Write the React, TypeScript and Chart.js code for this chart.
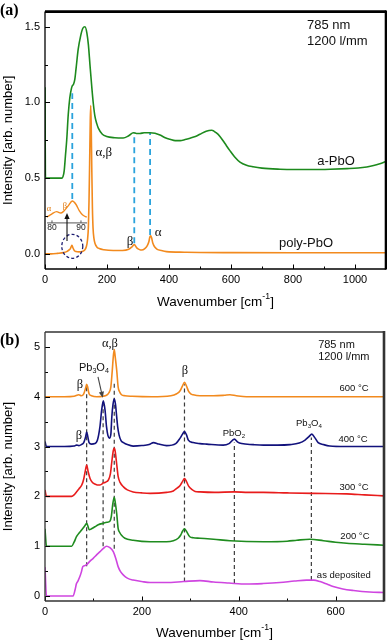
import React, { useEffect, useRef } from "react";
import { Chart, registerables } from "chart.js";

Chart.register(...registerables);

const SANS = "'Liberation Sans', Arial, sans-serif";
const SERIF = "'Liberation Serif', 'Times New Roman', serif";
Chart.defaults.font.family = SANS;
Chart.defaults.color = "#000";

// ---------- (a) amorphous and polycrystalline PbO ----------
const A_APBO_WN = [0, 1.5, 20, 40, 55, 58, 62, 66, 70, 75, 80, 85, 88, 92, 96, 100, 107, 115, 122, 129, 135, 140, 145, 151, 156, 161, 167, 172, 185, 199, 225, 252, 270, 285, 295, 306, 320, 339, 355, 371, 390, 403, 420, 436, 452, 468, 485, 500, 520, 538, 552, 565, 580, 597, 612, 629, 650, 671, 700, 758, 800, 865, 920, 974, 1010, 1038, 1060, 1080, 1100];
const A_APBO_I = [1.1, 0.5, 0.5, 0.5, 0.5, 0.51, 0.55, 0.65, 0.75, 0.92, 1.03, 1.09, 1.11, 1.12, 1.15, 1.22, 1.35, 1.44, 1.49, 1.5, 1.46, 1.38, 1.25, 1.1, 0.99, 0.91, 0.86, 0.83, 0.79, 0.775, 0.767, 0.765, 0.78, 0.8, 0.795, 0.795, 0.8, 0.8, 0.797, 0.785, 0.765, 0.757, 0.748, 0.748, 0.755, 0.764, 0.775, 0.79, 0.81, 0.816, 0.8, 0.774, 0.73, 0.68, 0.64, 0.606, 0.585, 0.575, 0.566, 0.559, 0.557, 0.557, 0.559, 0.563, 0.567, 0.574, 0.583, 0.595, 0.61];

const A_POLY_WN = [0, 20, 40, 60, 70, 77, 82, 85, 87, 90, 95, 100, 110, 120, 128, 133, 137, 140, 142, 144, 146, 147.5, 149, 151, 153, 155, 158, 162, 167, 175, 190, 220, 250, 270, 280, 288, 296, 305, 312, 322, 330, 335, 338, 341, 344, 348, 354, 362, 375, 392, 450, 500, 600, 800, 1100];
const A_POLY_I = [0, 0, 0.003, 0.008, 0.015, 0.025, 0.035, 0.05, 0.057, 0.04, 0.02, 0.015, 0.013, 0.015, 0.025, 0.045, 0.09, 0.18, 0.35, 0.6, 0.88, 0.98, 0.86, 0.55, 0.3, 0.17, 0.1, 0.065, 0.046, 0.035, 0.027, 0.022, 0.022, 0.03, 0.045, 0.061, 0.04, 0.028, 0.025, 0.035, 0.055, 0.08, 0.11, 0.12, 0.105, 0.07, 0.045, 0.03, 0.022, 0.015, 0.011, 0.009, 0.008, 0.007, 0.007];

// magnified poly-PbO band around 80-90 cm-1
const A_ZOOM_WN = [78.2, 79.9, 81.6, 83.0, 83.9, 85.6, 87.0, 88.3, 89.4, 90.6, 92.0];
const A_ZOOM_I = [0.01, 0.019, 0.026, 0.022, 0.026, 0.043, 0.057, 0.047, 0.029, 0.016, 0.01];
const A_ZOOM_TICKS = [80, 90];

// ---------- (b) annealing series ----------
const B_600_WN = [0, 40, 60, 70, 75, 80, 84, 86, 88, 91, 96, 107, 120, 127, 132, 136, 139, 141, 143, 145, 148, 151, 154, 158, 165, 180, 220, 260, 272, 279, 284, 288, 292, 296, 301, 306, 320, 348, 370, 382, 395, 416, 500, 600, 700];
const B_600_I = [4.0, 4.0, 4.01, 4.04, 4.02, 4.06, 4.18, 4.25, 4.2, 4.06, 4.02, 4.0, 4.01, 4.03, 4.08, 4.2, 4.54, 4.8, 4.95, 4.8, 4.54, 4.2, 4.1, 4.04, 4.02, 4.01, 4.0, 4.02, 4.06, 4.12, 4.22, 4.29, 4.22, 4.12, 4.06, 4.04, 4.02, 4.02, 4.03, 4.04, 4.02, 4.0, 4.0, 4.0, 4.0];

const B_400_WN = [0, 3, 40, 60, 65, 70, 75, 80, 84, 86, 88, 91, 96, 103, 108, 113.5, 117, 120.5, 124, 127, 130, 133, 136, 138, 140.5, 143, 145.5, 148, 150, 153, 157, 162, 170, 182, 200, 215, 224, 235, 251, 270, 279, 284, 288, 292, 296, 306, 320, 334, 368, 380, 391, 398, 406, 430, 451, 480, 506, 525, 537, 545, 551, 557, 564, 575, 588, 620, 660, 700];
const B_400_I = [3.1, 3.0, 3.0, 3.01, 3.03, 3.02, 3.04, 3.08, 3.2, 3.29, 3.22, 3.08, 3.05, 3.06, 3.12, 3.4, 3.73, 3.92, 3.73, 3.4, 3.22, 3.17, 3.25, 3.6, 3.85, 3.96, 3.85, 3.6, 3.4, 3.23, 3.12, 3.08, 3.04, 3.01, 3.02, 3.04, 3.08, 3.05, 3.02, 3.06, 3.17, 3.25, 3.3, 3.24, 3.13, 3.08, 3.06, 3.05, 3.03, 3.06, 3.15, 3.09, 3.06, 3.04, 3.03, 3.03, 3.04, 3.07, 3.13, 3.2, 3.25, 3.18, 3.08, 3.04, 3.01, 3.0, 3.0, 3.0];

const B_300_WN = [0, 3, 40, 55, 60, 65, 70, 76, 80, 83, 86, 89, 93, 98, 103, 108, 113.6, 118, 120, 124, 128, 131, 135, 138, 141, 143, 145, 148, 151, 155, 162, 170, 182, 200, 217, 251, 265, 272, 279, 284, 288, 292, 297, 303, 310, 320, 350, 391, 420, 451, 500, 554, 623, 660, 700];
const B_300_I = [2.13, 2.0, 2.0, 2.0, 2.03, 2.09, 2.15, 2.23, 2.35, 2.5, 2.63, 2.5, 2.36, 2.28, 2.25, 2.23, 2.23, 2.25, 2.27, 2.28, 2.3, 2.33, 2.45, 2.7, 2.92, 2.97, 2.9, 2.65, 2.4, 2.28, 2.19, 2.13, 2.09, 2.07, 2.06, 2.08, 2.11, 2.16, 2.22, 2.3, 2.36, 2.3, 2.2, 2.14, 2.1, 2.09, 2.08, 2.09, 2.08, 2.08, 2.07, 2.06, 2.05, 2.03, 2.01];

const B_200_WN = [0, 3, 40, 55, 60, 65, 70, 76, 80, 83, 86, 88, 91.5, 96, 103, 110, 120, 128, 134, 137, 140, 143, 145.5, 148, 151, 154, 158, 165, 182, 217, 251, 265, 275, 280, 284, 288, 292, 299, 306, 320, 348, 382, 451, 500, 520, 547, 575, 600, 623, 660, 700];
const B_200_I = [1.35, 1.0, 1.0, 1.0, 1.08, 1.19, 1.26, 1.33, 1.38, 1.42, 1.46, 1.42, 1.33, 1.35, 1.39, 1.43, 1.46, 1.48, 1.5, 1.6, 1.85, 1.98, 1.85, 1.66, 1.36, 1.28, 1.22, 1.16, 1.12, 1.09, 1.09, 1.11, 1.16, 1.22, 1.3, 1.35, 1.3, 1.19, 1.17, 1.16, 1.14, 1.11, 1.09, 1.1, 1.12, 1.14, 1.11, 1.08, 1.06, 1.04, 1.02];

const B_DEP_WN = [0, 3, 40, 58, 62, 65, 68, 72, 75, 78, 82, 86, 93, 100, 107, 113.6, 120, 127, 134, 141, 146, 151, 156, 162, 170, 182, 200, 217, 250, 286, 320, 348, 380, 416, 450, 485, 515, 540, 555, 568, 582, 595, 615, 637, 670, 700];
const B_DEP_I = [0.58, 0.0, 0.0, 0.0, 0.12, 0.25, 0.3, 0.39, 0.48, 0.59, 0.61, 0.63, 0.7, 0.76, 0.83, 0.89, 0.95, 1.0, 0.97, 0.89, 0.76, 0.59, 0.49, 0.42, 0.36, 0.32, 0.29, 0.27, 0.27, 0.29, 0.31, 0.28, 0.26, 0.24, 0.25, 0.27, 0.3, 0.32, 0.32, 0.29, 0.24, 0.19, 0.14, 0.11, 0.08, 0.07];

// band positions marked with drop lines
const A_BANDS = [88, 288, 339];
const B_BANDS = [86, 120, 143, 288, 391, 550];

type Part = [string, ("sub" | "sup")?];
interface Label { x: number; y: number; parts: Part[]; size: number; serif?: boolean; bold?: boolean; align?: "left" | "center"; color?: string; xAxis?: string; yAxis?: string; }
interface Guide { x: number; y1: number; y2: number; }
interface Arrow { x1: number; y1: number; x2: number; y2: number; color: string; }
interface Ring { x: number; y: number; rx: number; ry: number; color: string; }
interface Deco {
  guides: Guide[]; guideColor: string; guideWidth: number; guideDash: number[];
  labels: Label[]; arrows: Arrow[]; rings: Ring[];
  minorX: number; minorY: number; frame: string; thickTop: boolean;
  xTitleY: number; tag: string; tagY: number;
  inset?: { from: number; to: number; y: number; labelY: number; ticks: number[] };
}

const pts = (xs: number[], ys: number[]) => xs.map((x, i) => ({ x, y: ys[i] }));

function drawRich(ctx: CanvasRenderingContext2D, parts: Part[], x: number, y: number, size: number, family: string, align: string, color: string, bold = false) {
  const w = bold ? "bold " : "";
  const widths = parts.map(([t, k]) => {
    ctx.font = `${w}${k ? size * 0.65 : size}px ${family}`;
    return ctx.measureText(t).width;
  });
  const total = widths.reduce((a, b) => a + b, 0);
  let cx = align === "center" ? x - total / 2 : x;
  ctx.fillStyle = color;
  ctx.textAlign = "left";
  ctx.textBaseline = "middle";
  parts.forEach(([t, k], i) => {
    ctx.font = `${w}${k ? size * 0.65 : size}px ${family}`;
    const dy = k === "sub" ? size * 0.3 : k === "sup" ? -size * 0.38 : 0;
    ctx.fillText(t, cx, y + dy);
    cx += widths[i];
  });
}

function decorate(d: Deco) {
  return {
    id: "decorate",
    beforeDatasetsDraw(chart: any) {
      const { ctx, scales } = chart;
      ctx.save();
      ctx.strokeStyle = d.guideColor;
      ctx.lineWidth = d.guideWidth;
      ctx.setLineDash(d.guideDash);
      for (const g of d.guides) {
        const px = scales.x.getPixelForValue(g.x);
        ctx.beginPath();
        ctx.moveTo(px, scales.y.getPixelForValue(g.y1));
        ctx.lineTo(px, scales.y.getPixelForValue(g.y2));
        ctx.stroke();
      }
      ctx.restore();
    },
    afterDatasetsDraw(chart: any) {
      const { ctx, scales, chartArea: ca } = chart;
      const sx = scales.x, sy = scales.y;
      ctx.save();

      // magnified-band axis
      if (d.inset) {
        const x2 = scales.x2, y2 = scales.y2;
        const py = y2.getPixelForValue(d.inset.y);
        ctx.strokeStyle = "#555";
        ctx.lineWidth = 1;
        ctx.beginPath();
        ctx.moveTo(x2.getPixelForValue(d.inset.from), py);
        ctx.lineTo(x2.getPixelForValue(d.inset.to), py);
        ctx.stroke();
        for (const t of d.inset.ticks) {
          const px = x2.getPixelForValue(t);
          ctx.beginPath();
          ctx.moveTo(px, py);
          ctx.lineTo(px, py - 2.5);
          ctx.stroke();
          drawRich(ctx, [[String(t)]], px, y2.getPixelForValue(d.inset.labelY), 8.5, SANS, "center", "#222");
        }
      }

      for (const r of d.rings) {
        ctx.strokeStyle = r.color;
        ctx.lineWidth = 1.3;
        ctx.setLineDash([3, 2.2]);
        ctx.beginPath();
        ctx.ellipse(sx.getPixelForValue(r.x), sy.getPixelForValue(r.y), r.rx, r.ry, 0, 0, Math.PI * 2);
        ctx.stroke();
      }
      ctx.setLineDash([]);

      for (const a of d.arrows) {
        const x1 = sx.getPixelForValue(a.x1), y1 = sy.getPixelForValue(a.y1);
        const x2 = sx.getPixelForValue(a.x2), y2 = sy.getPixelForValue(a.y2);
        const ang = Math.atan2(y2 - y1, x2 - x1);
        ctx.strokeStyle = a.color;
        ctx.fillStyle = a.color;
        ctx.lineWidth = 1.1;
        ctx.beginPath();
        ctx.moveTo(x1, y1);
        ctx.lineTo(x2 - 5 * Math.cos(ang), y2 - 5 * Math.sin(ang));
        ctx.stroke();
        ctx.beginPath();
        ctx.moveTo(x2, y2);
        ctx.lineTo(x2 - 6 * Math.cos(ang) + 2.6 * Math.sin(ang), y2 - 6 * Math.sin(ang) - 2.6 * Math.cos(ang));
        ctx.lineTo(x2 - 6 * Math.cos(ang) - 2.6 * Math.sin(ang), y2 - 6 * Math.sin(ang) + 2.6 * Math.cos(ang));
        ctx.closePath();
        ctx.fill();
      }

      for (const l of d.labels) {
        const xs = scales[l.xAxis ?? "x"], ys = scales[l.yAxis ?? "y"];
        drawRich(ctx, l.parts, xs.getPixelForValue(l.x), ys.getPixelForValue(l.y), l.size, l.serif ? SERIF : SANS, l.align ?? "center", l.color ?? "#111");
      }

      // inward tick marks
      ctx.strokeStyle = "#000";
      ctx.lineWidth = 1;
      const majX = sx.ticks.map((t: any) => t.value);
      const majY = sy.ticks.map((t: any) => t.value);
      for (let v = 0; v <= sx.max + 1e-9; v += d.minorX) {
        const major = majX.some((m: number) => Math.abs(m - v) < 1e-6);
        const px = Math.round(sx.getPixelForValue(v)) + 0.5;
        ctx.beginPath();
        ctx.moveTo(px, ca.bottom);
        ctx.lineTo(px, ca.bottom - (major ? 4.5 : 2.5));
        ctx.stroke();
      }
      for (let v = 0; v <= sy.max + 1e-9; v += d.minorY) {
        const major = majY.some((m: number) => Math.abs(m - v) < 1e-6);
        const py = Math.round(sy.getPixelForValue(v)) + 0.5;
        ctx.beginPath();
        ctx.moveTo(ca.left, py);
        ctx.lineTo(ca.left + (major ? 5 : 3), py);
        ctx.stroke();
      }

      // frame
      ctx.strokeStyle = d.frame;
      const line = (x1: number, y1: number, x2: number, y2: number, w: number) => {
        ctx.lineWidth = w;
        ctx.beginPath();
        ctx.moveTo(x1, y1);
        ctx.lineTo(x2, y2);
        ctx.stroke();
      };
      line(ca.left, ca.top, ca.left, ca.bottom, 1.3);
      line(ca.left, ca.bottom, ca.right, ca.bottom, 1.3);
      line(ca.left, ca.top, ca.right, ca.top, d.thickTop ? 2.6 : 1.3);
      line(ca.right, ca.top - 1, ca.right, ca.bottom + 0.6, 2.6);

      // axis title and panel tag
      drawRich(ctx, [["Wavenumber [cm"], ["-1", "sup"], ["]"]], (ca.left + ca.right) / 2, d.xTitleY, 13.5, SANS, "center", "#000");
      drawRich(ctx, [[d.tag]], 0, d.tagY, 16, SERIF, "left", "#000", true);
      ctx.restore();
    },
  };
}

function axes(xMax: number, xStep: number, yMin: number, yMax: number, yStep: number, xHeight: number, yFmt: (v: number) => string) {
  return {
    x: {
      type: "linear", min: 0, max: xMax,
      grid: { display: false, drawTicks: false }, border: { display: false },
      ticks: { stepSize: xStep, includeBounds: false, padding: 4, maxRotation: 0, font: { size: 11 }, color: "#000", callback: (v: any) => String(Math.round(Number(v))) },
      afterFit: (s: any) => { s.height = xHeight; },
    },
    y: {
      type: "linear", min: yMin, max: yMax,
      grid: { display: false, drawTicks: false }, border: { display: false },
      ticks: { stepSize: yStep, includeBounds: false, padding: 5, font: { size: 11 }, color: "#000", callback: (v: any) => yFmt(Number(v)) },
      title: { display: true, text: "Intensity [arb. number]", font: { size: 13 }, color: "#000", padding: { top: 1, bottom: 0 } },
      afterFit: (s: any) => { s.width = 45; },
    },
  };
}

const line = (data: { x: number; y: number }[], color: string, extra: any = {}) => ({
  data, borderColor: color, borderWidth: 1.6, pointRadius: 0, fill: false,
  cubicInterpolationMode: "monotone", ...extra,
});

function configA(): any {
  const deco: Deco = {
    guides: [
      { x: A_BANDS[0], y1: 0.363, y2: 1.06 },
      { x: A_BANDS[1], y1: 0.07, y2: 0.8 },
      { x: A_BANDS[2], y1: 0.125, y2: 0.8 },
    ],
    guideColor: "#2aa3dc", guideWidth: 1.8, guideDash: [6, 4],
    labels: [
      { x: 190, y: 0.67, parts: [["α,β"]], size: 13, serif: true },
      { x: 274, y: 0.082, parts: [["β"]], size: 13, serif: true },
      { x: 365, y: 0.14, parts: [["α"]], size: 13, serif: true },
      { x: 939, y: 0.61, parts: [["a-PbO"]], size: 13 },
      { x: 842, y: 0.07, parts: [["poly-PbO"]], size: 13 },
      { x: 845, y: 1.506, parts: [["785 nm"]], size: 13, align: "left" },
      { x: 845, y: 1.4, parts: [["1200 l/mm"]], size: 13, align: "left" },
      { x: 78.97, y: 0.033, parts: [["α"]], size: 8.5, serif: true, xAxis: "x2", yAxis: "y2", color: "#e07a10" },
      { x: 84.5, y: 0.0446, parts: [["β"]], size: 8.5, serif: true, xAxis: "x2", yAxis: "y2", color: "#e07a10" },
    ],
    arrows: [{ x1: 71, y1: 0.085, x2: 71, y2: 0.27, color: "#111" }],
    rings: [{ x: 88, y: 0.05, rx: 10.5, ry: 12, color: "#1c1c70" }],
    minorX: 100, minorY: 0.25, frame: "#000", thickTop: true,
    xTitleY: 302, tag: "(a)", tagY: 11,
    inset: { from: 78.3, to: 92.1, y: -0.007, labelY: -0.022, ticks: A_ZOOM_TICKS },
  };
  const sc: any = axes(1100, 200, -0.1, 1.6, 0.5, 51, (v) => v.toFixed(1));
  sc.x2 = { type: "linear", display: false, min: 77.59, max: 195.2 };
  sc.y2 = { type: "linear", display: false, min: -0.142, max: 0.612 };
  return {
    type: "line",
    data: {
      datasets: [
        line(pts(A_APBO_WN, A_APBO_I), "#1d8a1d"),
        line(pts(A_POLY_WN, A_POLY_I), "#f28a1e"),
        line(pts(A_ZOOM_WN, A_ZOOM_I), "#f28a1e", { xAxisID: "x2", yAxisID: "y2", borderWidth: 1.4 }),
      ],
    },
    options: {
      responsive: false, animation: false, events: [],
      layout: { padding: { left: 0, right: 1, top: 1.5, bottom: 0 } },
      plugins: { legend: { display: false }, tooltip: { enabled: false } },
      scales: sc,
    },
    plugins: [decorate(deco)],
  };
}

function configB(): any {
  const deco: Deco = {
    guides: [
      { x: B_BANDS[0], y1: 0.6, y2: 4.2 },
      { x: B_BANDS[1], y1: 1.0, y2: 3.95 },
      { x: B_BANDS[2], y1: 0.95, y2: 4.3 },
      { x: B_BANDS[3], y1: 0.29, y2: 4.25 },
      { x: B_BANDS[4], y1: 0.26, y2: 3.08 },
      { x: B_BANDS[5], y1: 0.32, y2: 3.18 },
    ],
    guideColor: "#3c3c3c", guideWidth: 1.2, guideDash: [4, 3],
    labels: [
      { x: 134, y: 5.06, parts: [["α,β"]], size: 12.5, serif: true },
      { x: 101, y: 4.58, parts: [["Pb"], ["3", "sub"], ["O"], ["4", "sub"]], size: 11 },
      { x: 72, y: 4.24, parts: [["β"]], size: 12.5, serif: true },
      { x: 70, y: 3.21, parts: [["β"]], size: 12.5, serif: true },
      { x: 289, y: 4.52, parts: [["β"]], size: 12.5, serif: true },
      { x: 390, y: 3.27, parts: [["PbO"], ["2", "sub"]], size: 9.5 },
      { x: 545, y: 3.47, parts: [["Pb"], ["3", "sub"], ["O"], ["4", "sub"]], size: 9.5 },
      { x: 564, y: 5.04, parts: [["785 nm"]], size: 11, align: "left" },
      { x: 564, y: 4.8, parts: [["1200 l/mm"]], size: 11, align: "left" },
      { x: 638, y: 4.16, parts: [["600 °C"]], size: 9.5 },
      { x: 636, y: 3.15, parts: [["400 °C"]], size: 9.5 },
      { x: 638, y: 2.19, parts: [["300 °C"]], size: 9.5 },
      { x: 640, y: 1.2, parts: [["200 °C"]], size: 9.5 },
      { x: 617, y: 0.42, parts: [["as deposited"]], size: 9.5 },
    ],
    arrows: [{ x1: 109.4, y1: 4.4, x2: 119.2, y2: 3.98, color: "#444" }],
    rings: [],
    minorX: 100, minorY: 0.5, frame: "#333", thickTop: false,
    xTitleY: 313, tag: "(b)", tagY: 21,
  };
  return {
    type: "line",
    data: {
      datasets: [
        line(pts(B_DEP_WN, B_DEP_I), "#cf45e0"),
        line(pts(B_200_WN, B_200_I), "#1f8c1f"),
        line(pts(B_300_WN, B_300_I), "#e81c1c"),
        line(pts(B_400_WN, B_400_I), "#12127c"),
        line(pts(B_600_WN, B_600_I), "#f28a1e"),
      ],
    },
    options: {
      responsive: false, animation: false, events: [],
      layout: { padding: { left: 0, right: 3, top: 12, bottom: 0 } },
      plugins: { legend: { display: false }, tooltip: { enabled: false } },
      scales: axes(700, 200, -0.1, 5.3, 1, 40, (v) => String(Math.round(v))),
    },
    plugins: [decorate(deco)],
  };
}

function Panel({ height, make }: { height: number; make: () => any }) {
  const ref = useRef<HTMLCanvasElement>(null);
  useEffect(() => {
    const chart = new Chart(ref.current as HTMLCanvasElement, make());
    return () => chart.destroy();
  }, [make]);
  return <canvas ref={ref} width={387} height={height} style={{ display: "block", width: 387, height }} />;
}

export default function App() {
  return (
    <div style={{ position: "absolute", left: 0, top: 0, width: 387, height: 641, background: "#fff" }}>
      <Panel height={320} make={configA} />
      <Panel height={321} make={configB} />
    </div>
  );
}
